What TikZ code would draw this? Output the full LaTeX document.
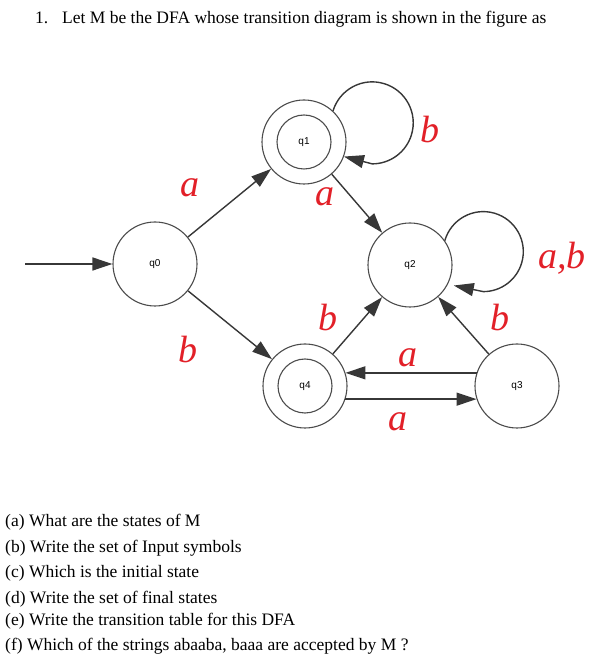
\documentclass[tikz,border=0pt]{standalone}
\usepackage{fontspec}
\setmainfont{Liberation Serif}
\newfontfamily\statefont{Liberation Sans}
\usetikzlibrary{arrows.meta}
\definecolor{lab}{RGB}{226,32,40}
\definecolor{edgec}{RGB}{55,55,55}
\begin{document}
\begin{tikzpicture}[x=1pt,y=1pt,
  state/.style={circle,draw=black!70,line width=1.1pt,minimum size=84pt,inner sep=0pt,font=\statefont\fontsize{10}{10}\selectfont},
  accepting/.style={path picture={\draw[black!70,line width=1.1pt] (path picture bounding box.center) circle (27pt);}},
  tr/.style={draw=edgec,line width=1.4pt,-{Triangle[length=20pt,width=13pt]}},
  lbl/.style={text=lab,font=\fontsize{38}{38}\selectfont\itshape,inner sep=0pt},
  txt/.style={anchor=base west,inner sep=0pt,font=\fontsize{17.5}{17.5}\selectfont}]
\useasboundingbox (0,0) rectangle (595,662);
% header
\node[txt] (n1) at (35,638) {1.};
\node[txt] (hd) at (62,638) {Let M be the DFA whose transition diagram is shown in the figure as};
% states
\node[state] (q0) at (155,398) {q0};
\node[state,accepting] (q1) at (304,520) {q1};
\node[state] (q2) at (410,397) {q2};
\node[state] (q3) at (517,276) {q3};
\node[state,accepting] (q4) at (305,276) {q4};
\coordinate (start) at (25,398);
% transitions
\draw[tr] (start) -- (q0);
\draw[tr] (q0) -- (q1);
\draw[tr] (q1) -- (q2);
\draw[tr] (q0) -- (q4);
\draw[tr] (q4) -- (q2);
\draw[tr] (q3) -- (q2);
\draw[tr] (q3.162) -- (q4.18);
\draw[tr] (q4.-18) -- (q3.198);
\draw[tr] (q1.47) arc[start angle=163, end angle=-90, radius=41] -- (q1.-20);
\draw[tr,shorten >=6pt] (q2.35) arc[start angle=164, end angle=-90, radius=40] -- (q2.-27);
% labels
\node[lbl] (la1) at (190,474) {a};
\node[lbl] (la2) at (325,465) {a};
\node[lbl] (lb1) at (430,532) {b};
\node[lbl] (lab2) at (562,404) {a,b};
\node[lbl] (lb42) at (328,344) {b};
\node[lbl] (lb32) at (500,344) {b};
\node[lbl] (lb04) at (188,312) {b};
\node[lbl] (la34) at (408,304) {a};
\node[lbl] (la43) at (398,240) {a};
% questions
\node[txt] (qa) at (5,135) {(a) What are the states of M};
\node[txt] (qb) at (5,109) {(b) Write the set of Input symbols};
\node[txt] (qc) at (5,84) {(c) Which is the initial state};
\node[txt] (qd) at (5,58) {(d) Write the set of final states};
\node[txt] (qe) at (5,36) {(e) Write the transition table for this DFA};
\node[txt] (qf) at (5,11) {(f) Which of the strings abaaba, baaa are accepted by M ?};
\end{tikzpicture}
\end{document}
